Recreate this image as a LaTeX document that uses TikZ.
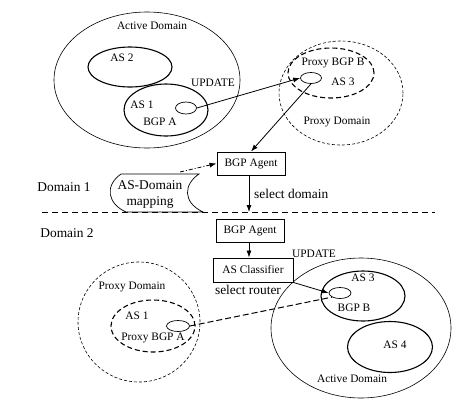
\documentclass[tikz,border=0pt]{standalone}
\usepackage{fontspec}
\setmainfont{Liberation Serif}
\usetikzlibrary{arrows.meta,shapes.geometric}
\begin{document}
\begin{tikzpicture}[x=1pt,y=-1pt,
  lbl/.style={inner sep=0pt,font=\fontsize{11.4}{12}\selectfont},
  big/.style={inner sep=0pt,font=\fontsize{13.4}{14}\selectfont},
  dom/.style={draw,ellipse,line width=0.6pt,inner sep=0pt},
  pdom/.style={draw,ellipse,line width=0.6pt,dash pattern=on 3pt off 2pt,inner sep=0pt},
  asel/.style={draw,ellipse,line width=1.1pt,inner sep=0pt},
  pasel/.style={draw,ellipse,line width=1.1pt,dash pattern=on 5pt off 3pt,inner sep=0pt},
  rtr/.style={draw,ellipse,line width=0.7pt,inner sep=0pt},
  box/.style={draw,line width=1pt,inner sep=0pt,font=\fontsize{11.4}{12}\selectfont},
  arr/.style={line width=0.8pt,-{Latex[length=7pt,width=5pt]}}]
\useasboundingbox (0,0) rectangle (474,413);
% top active domain
\node[dom,minimum width=186pt,minimum height=136pt] (ad1) at (147,80) {};
\node[lbl] (ad1t) at (152,26) {Active Domain};
\node[asel,minimum width=84pt,minimum height=40pt] (as2) at (130,67) {};
\node[lbl] (as2t) at (122,58) {AS 2};
\node[asel,minimum width=84pt,minimum height=52pt] (as1) at (166,110) {};
\node[lbl] (as1t) at (142,105) {AS 1};
\node[lbl] (bgpa) at (160,122) {BGP A};
\node[rtr,minimum width=21pt,minimum height=12pt] (ra) at (186,108) {};
\node[lbl] (up1) at (213,83) {UPDATE};
% top proxy domain
\node[pdom,minimum width=124pt,minimum height=104pt] (pd1) at (341,93) {};
\node[pasel,minimum width=86pt,minimum height=50pt] (as3p) at (331,73) {};
\node[lbl] (pbb) at (333,63) {Proxy BGP B};
\node[lbl] (as3pt) at (343,82) {AS 3};
\node[lbl] (pd1t) at (337,122) {Proxy Domain};
\node[rtr,minimum width=21pt,minimum height=11pt] (rb) at (311,78) {};
% boxes
\node[box,minimum width=68pt,minimum height=23pt] (ag1) at (251,163.5) {BGP Agent};
\node[box,minimum width=68pt,minimum height=23pt] (ag2) at (250,230.5) {BGP Agent};
\node[box,minimum width=80pt,minimum height=24pt] (cls) at (253,270) {AS Classifier};
\node[big] (d1) at (64,187) {Domain 1};
\node[big] (d2) at (67,233) {Domain 2};
\node[big,anchor=west] (sd) at (254,194) {select domain};
\node[big] (sr) at (248,290) {select router};
\node[lbl] (up2) at (314,254) {UPDATE};
% separator
\coordinate (sepl) at (42,212);
\coordinate (sepr) at (435,212);
\draw[line width=0.8pt,dash pattern=on 6pt off 4pt] (sepl) -- (sepr);
\coordinate (sepx) at (249,212);
% AS-Domain mapping shape
\draw[line width=0.7pt] (121,174) -- (199,174) .. controls (184,184) and (182,202) .. (203,212)
  -- (126,212) .. controls (108,204) and (104,186) .. (121,174) -- cycle;
\node[big] (mapa) at (150,185) {AS-Domain};
\node[big] (mapb) at (150,203) {mapping};
\coordinate (mapt) at (180,172);
% bottom active domain
\node[dom,minimum width=180pt,minimum height=140pt] (ad2) at (361,328) {};
\node[asel,minimum width=84pt,minimum height=50pt] (as3) at (363,296) {};
\node[lbl] (as3t) at (363,278) {AS 3};
\node[lbl] (bgpb) at (354,308) {BGP B};
\node[rtr,minimum width=22pt,minimum height=11pt] (rb2) at (340,293) {};
\node[asel,minimum width=85pt,minimum height=51pt] (as4) at (390,347) {};
\node[lbl] (as4t) at (395,345) {AS 4};
\node[lbl] (ad2t) at (352,379) {Active Domain};
% bottom proxy domain
\node[pdom,minimum width=122pt,minimum height=120pt] (pd2) at (139,322) {};
\node[pasel,minimum width=84pt,minimum height=52pt] (as1p) at (153,326) {};
\node[lbl] (pd2t) at (132,287) {Proxy Domain};
\node[lbl] (as1pt) at (137,316) {AS 1};
\node[lbl] (pba) at (153,338) {Proxy BGP A};
\node[rtr,minimum width=23pt,minimum height=11pt] (ra2) at (178,326) {};
% connectors
\draw[arr] (ra.east) -- (rb.west);
\draw[arr] (rb.south) -- (ag1.north);
\draw[arr] (ag1.south -| sepx) -- (sepx);
\draw[line width=0.8pt,dash pattern=on 4pt off 2pt on 1pt off 2pt,-{Latex[length=7pt,width=5pt]}] (mapt) -- (ag1.west);
\draw[arr] (ag2.south -| sepx) -- (cls.north -| sepx);
\draw[arr] (cls.south east) -- (rb2.west);
\draw[line width=1pt,dash pattern=on 6pt off 3pt] (ra2.east) -- (rb2.south west);
\end{tikzpicture}
\end{document}
